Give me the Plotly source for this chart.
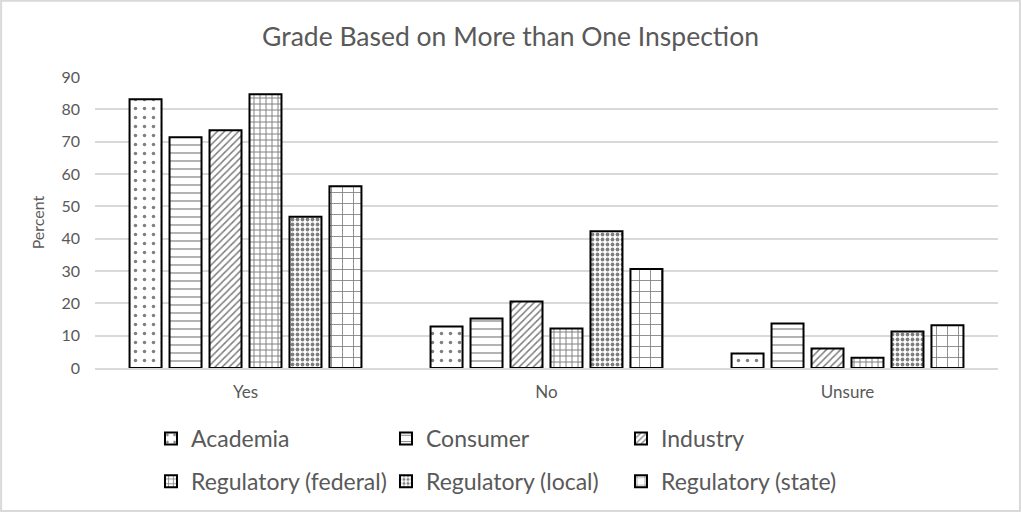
import plotly.graph_objects as go

# Data
categories = ["Yes", "No", "Unsure"]
groups = ["Academia", "Consumer", "Industry",
          "Regulatory (federal)", "Regulatory (local)", "Regulatory (state)"]
academia = [83.1, 12.8, 4.5]
consumer = [71.4, 15.3, 13.8]
industry = [73.5, 20.6, 6.0]
federal = [84.7, 12.2, 3.2]
local = [46.8, 42.3, 11.3]
state = [56.2, 30.6, 13.2]
y_ticks = [0, 10, 20, 30, 40, 50, 60, 70, 80, 90]

series = [academia, consumer, industry, federal, local, state]

# pattern styling per group: (shape, size, solidity)
patterns = [
    (".", 9, 0.12),
    ("-", 8, 0.15),
    ("/", 5, 0.3),
    ("+", 6, 0.3),
    (".", 5, 0.45),
    ("+", 11, 0.15),
]

FONT = "Lato, Open Sans, sans-serif"
GREY = "#595959"

fig = go.Figure()
for i, (name, vals) in enumerate(zip(groups, series)):
    shape, size, solid = patterns[i]
    fig.add_trace(go.Bar(
        name=name,
        x=categories,
        y=vals,
        marker=dict(
            color="white",
            line=dict(color="black", width=2),
            pattern=dict(shape=shape, size=size, solidity=solid,
                         fgcolor="black", bgcolor="white", fillmode="overlay"),
        ),
        legend="legend" if i < 3 else "legend2",
    ))

legend_common = dict(
    orientation="h",
    xanchor="left",
    yanchor="middle",
    x=0.062,
    font=dict(family=FONT, size=23, color=GREY),
    entrywidth=190,
    entrywidthmode="pixels",
    itemwidth=30,
    bgcolor="rgba(0,0,0,0)",
)

fig.update_layout(
    width=1021,
    height=513,
    paper_bgcolor="white",
    plot_bgcolor="white",
    margin=dict(l=95, r=23, t=77, b=144),
    barmode="group",
    bargap=0.203,
    bargroupgap=0.2,
    title=dict(text="Grade Based on More than One Inspection",
               x=0.5, xref="container", y=0.928, yanchor="middle",
               font=dict(family=FONT, size=26.5, color=GREY)),
    legend=dict(**legend_common, y=-0.238),
    legend2=dict(**legend_common, y=-0.385),
    xaxis=dict(
        showgrid=False,
        showline=True,
        linecolor="#d9d9d9",
        linewidth=1.5,
        ticks="",
        ticklabelstandoff=8,
        tickfont=dict(family=FONT, size=17, color=GREY),
    ),
    yaxis=dict(
        range=[0, 90],
        tickvals=y_ticks,
        showgrid=True,
        gridcolor="#d9d9d9",
        gridwidth=1.5,
        zeroline=False,
        showline=False,
        ticks="",
        ticklabelstandoff=14,
        tickfont=dict(family=FONT, size=16, color=GREY),
        title=dict(text="Percent", standoff=12,
                   font=dict(family=FONT, size=16, color=GREY)),
    ),
    shapes=[dict(
        type="rect", xref="paper", yref="paper",
        x0=-0.104, x1=1.0243, y0=-0.4914, y1=1.2620,
        line=dict(color="#d9d9d9", width=2),
        fillcolor="rgba(0,0,0,0)",
    )],
)

fig.write_html("out.html", config={"displayModeBar": False},
               post_script="document.body.style.margin='0';")
